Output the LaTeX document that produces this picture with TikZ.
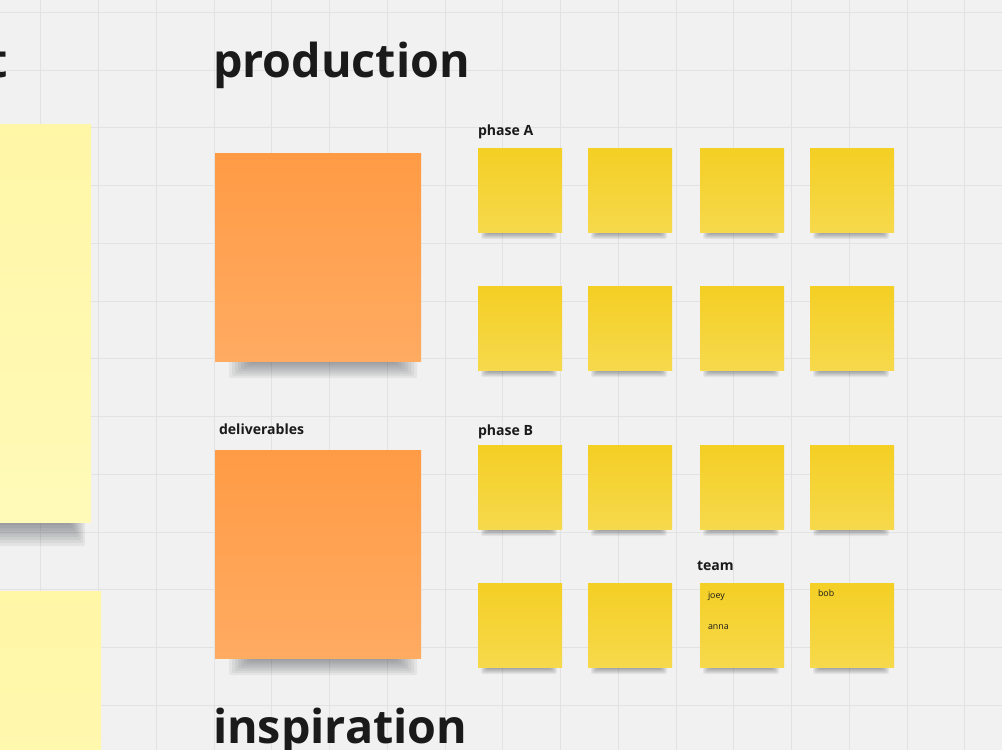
\documentclass[tikz,border=0pt]{standalone}
\usepackage{fontspec}
\setmainfont{Open Sans}
\usetikzlibrary{positioning}

\definecolor{board}{HTML}{F1F1F1}
\definecolor{gridline}{HTML}{E2E2E2}
\definecolor{ink}{HTML}{1A1A1A}
\definecolor{shade}{HTML}{30343C}
\definecolor{yellowTop}{HTML}{F4CF24}
\definecolor{yellowBot}{HTML}{F6D94C}
\definecolor{orangeTop}{HTML}{FF9B45}
\definecolor{orangeBot}{HTML}{FFAB62}
\definecolor{paleTop}{HTML}{FFF6A6}
\definecolor{paleBot}{HTML}{FFFAB8}

\pgfdeclarelayer{board}
\pgfdeclarelayer{shadow}
\pgfsetlayers{board,shadow,main}

\begin{document}
\begin{tikzpicture}[
        x=0.025cm, y=-0.025cm,
        every node/.style={inner sep=0pt, outer sep=0pt},
        heading/.style={font=\fontsize{33.2}{38}\selectfont\bfseries, text=ink, anchor=base west},
        label/.style={font=\fontsize{10}{12}\selectfont\bfseries, text=ink, anchor=base west},
        member/.style={font=\fontsize{6.3}{7}\selectfont, text=ink, anchor=base west},
        sticky/.style={anchor=north west, top color=#1Top, bottom color=#1Bot, draw=none},
        yellownote/.style={sticky=yellow, minimum width=2.1cm, minimum height=2.1cm},
        orangenote/.style={sticky=orange, minimum width=5.15cm, minimum height=5.2cm},
        palenote/.style={sticky=pale, minimum width=10cm, minimum height=9.95cm},
        shadowlayer/.style={fill=shade, opacity=0.065, rounded corners=1.5pt}
        ]

        % Board
        \useasboundingbox (0,0) rectangle (1002,750);
        \clip (0,0) rectangle (1002,750);
        \begin{pgfonlayer}{board}
        \fill[board] (0,0) rectangle (1002,750);
        \foreach \k in {0,...,16}
            \draw[gridline, line width=0.5pt] (40.7+57.75*\k,0) -- (40.7+57.75*\k,750);
        \foreach \k in {0,...,12}
            \draw[gridline, line width=0.5pt] (0,12.3+57.75*\k) -- (1002,12.3+57.75*\k);
        \end{pgfonlayer}

        % Notes cut off on the left
        \node[palenote] (paleUpper) at (-309,124) {};
        \node[palenote] (paleLower) at (-299,591) {};
        \node[heading, anchor=base east] (prevHeading) at (8,77) {t};

        % Headings
        \node[heading] (production) at (213,77) {production};
        \node[heading] (inspiration) at (213,743) {inspiration};

        % Orange notes
        \node[orangenote] (mainNote) at (215,153) {};
        \node[orangenote] (deliverables) at (215,450) {};
        \node[label] (deliverablesLabel) at (219,434) {deliverables};

        % Yellow notes
        \foreach \row/\y in {1/148,2/286,3/445,4/583}
            \foreach \col/\x in {1/478,2/588,3/700,4/810}
                \node[yellownote] (note-\row-\col) at (\x,\y) {};

        % Labels
        \node[label] (phaseA) at (478,135) {phase A};
        \node[label] (phaseB) at (478,435) {phase B};
        \node[label] (team) at (697,570) {team};

        % Team members
        \node[member] (joey) at ([shift={(8,15)}]note-4-3.north west) {joey};
        \node[member] (anna) at ([shift={(8,46)}]note-4-3.north west) {anna};
        \node[member] (bob) at ([shift={(8,13)}]note-4-4.north west) {bob};

        % Shadows under the notes
        \begin{pgfonlayer}{shadow}
        \foreach \n/\l/\r/\d/\s in {mainNote/14/4/17/3, deliverables/14/4/17/3, paleUpper/0/6/24/2}
            \foreach \i in {0,...,7}
                \fill[shadowlayer] ([shift={(\l+\s*\i,-4)}]\n.south west)
                    rectangle ([shift={(-\r-\s*\i,\d-\d*\i/8)}]\n.south east);
        \foreach \row in {1,...,4}
            \foreach \col in {1,...,4}
                \foreach \i in {0,...,7}
                    \fill[shadowlayer] ([shift={(3+\i,-3)}]note-\row-\col.south west)
                        rectangle ([shift={(-5-\i,7-7*\i/8)}]note-\row-\col.south east);
        \end{pgfonlayer}
    \end{tikzpicture}
\end{document}
